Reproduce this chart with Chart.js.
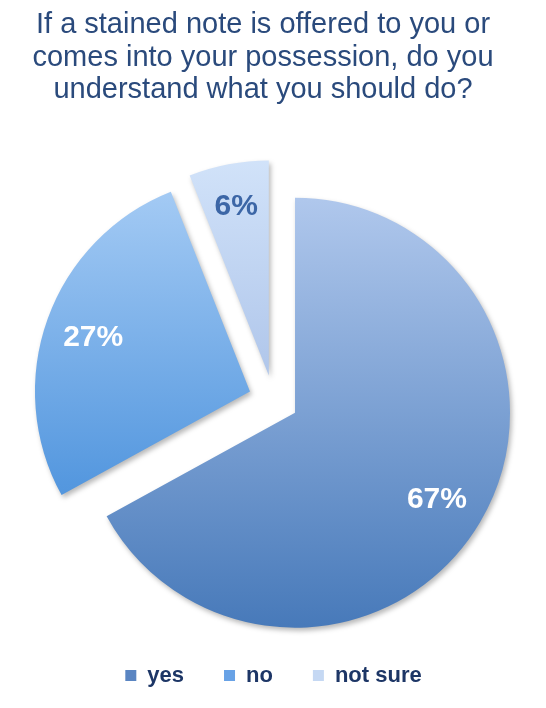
<!DOCTYPE html>
<html>
<head>
<meta charset="utf-8">
<script src="https://cdn.jsdelivr.net/npm/chart.js@4"></script>
<style>
  html, body { margin: 0; padding: 0; background: #ffffff; }
  #wrap { width: 546px; height: 708px; position: relative; }
</style>
</head>
<body>
<div id="wrap"><canvas id="c"></canvas></div>
<script>
// ---- data ----
const categories = ['yes', 'no', 'not sure'];
const shares = [67, 27, 6];
const valueLabels = ['67%', '27%', '6%'];
const titleLines = [
  'If a stained note is offered to you or',
  'comes into your possession, do you',
  'understand what you should do?'
];

// ---- styles ----
const explode = 25; // px each slice is pulled out along its bisector
const gradientStops = [
  [[0, '#b3caee'], [1, '#4477b8']],
  [[0, '#abcff6'], [0.7, '#5598df'], [1, '#3f86d2']],
  [[0, '#d3e4fa'], [0.45, '#b3c9ec'], [1, '#92aedd']]
];
const legendColors = ['#5a85c2', '#68a2e6', '#c5d8f3'];
const labelColors = ['#ffffff', '#ffffff', '#3c66a6'];
const labelRadius = [0.767, 0.775, 0.81];

function sliceColor(ctx) {
  const chart = ctx.chart;
  const area = chart.chartArea;
  const i = ctx.dataIndex;
  if (!area) return legendColors[i];
  const top = area.top + area.height / 2 - 228;
  const g = chart.ctx.createLinearGradient(0, top, 0, top + 456);
  gradientStops[i].forEach(s => g.addColorStop(s[0], s[1]));
  return g;
}

// Draws each Chart.js arc element pulled out along its bisector, with a soft shadow,
// then the percentage labels.
const explodePlugin = {
  id: 'explodedSlices',
  beforeDatasetDraw(chart, args) {
    const c = chart.ctx;
    const meta = args.meta;
    meta.data.forEach((arc) => {
      const mid = (arc.startAngle + arc.endAngle) / 2;
      c.save();
      c.shadowColor = 'rgba(0,0,0,0.28)';
      c.shadowBlur = 5;
      c.shadowOffsetX = 2;
      c.shadowOffsetY = 3;
      c.translate(Math.cos(mid) * explode, Math.sin(mid) * explode);
      arc.draw(c, chart.chartArea);
      c.restore();
    });
    c.save();
    c.font = 'bold 30px "Liberation Sans", Arial, sans-serif';
    c.textAlign = 'center';
    c.textBaseline = 'alphabetic';
    meta.data.forEach((arc, i) => {
      const mid = (arc.startAngle + arc.endAngle) / 2;
      const d = explode + labelRadius[i] * arc.outerRadius;
      c.fillStyle = labelColors[i];
      c.fillText(valueLabels[i], arc.x + Math.cos(mid) * d, arc.y + Math.sin(mid) * d + 11);
    });
    c.restore();
    return false;
  }
};

const titlePlugin = {
  id: 'multiTitle',
  afterDraw(chart) {
    const c = chart.ctx;
    c.save();
    c.font = '29px "Liberation Sans", Arial, sans-serif';
    c.fillStyle = '#2a4a7c';
    c.textAlign = 'center';
    c.textBaseline = 'alphabetic';
    titleLines.forEach((t, i) => c.fillText(t, 263, 33 + i * 32.5));
    c.restore();
  }
};

new Chart(document.getElementById('c'), {
  type: 'pie',
  data: {
    labels: categories,
    datasets: [{
      data: shares,
      backgroundColor: sliceColor,
      borderWidth: 0,
      offset: 0,
      hoverOffset: 0
    }]
  },
  options: {
    responsive: true,
    maintainAspectRatio: false,
    animation: false,
    radius: 215,
    layout: { padding: { top: 175.5, bottom: 11.5, left: 1, right: 0 } },
    plugins: {
      title: { display: false },
      tooltip: { enabled: false },
      legend: {
        display: true,
        position: 'bottom',
        labels: {
          boxWidth: 11,
          boxHeight: 11,
          padding: 40,
          color: '#1d3666',
          font: { family: '"Liberation Sans", Arial, sans-serif', size: 22, weight: 'bold' },
          generateLabels(chart) {
            return chart.data.labels.map((l, i) => ({
              text: l,
              fillStyle: legendColors[i],
              strokeStyle: legendColors[i],
              lineWidth: 0,
              hidden: false,
              index: i,
              fontColor: '#1d3666'
            }));
          }
        }
      }
    }
  },
  plugins: [explodePlugin, titlePlugin]
});
</script>
</body>
</html>
